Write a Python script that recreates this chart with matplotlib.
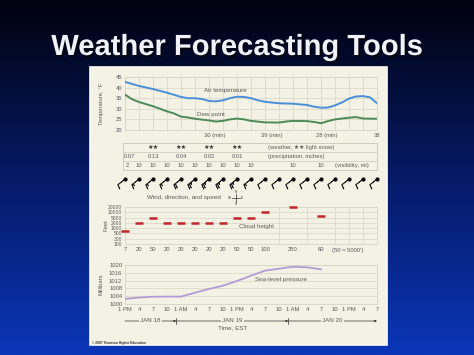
import numpy as np
import matplotlib
matplotlib.use('Agg')
import matplotlib.pyplot as plt
from matplotlib import patheffects
from matplotlib.patches import Rectangle
from matplotlib.lines import Line2D
from matplotlib.colors import LinearSegmentedColormap
from matplotlib.ticker import NullLocator

plt.rcParams['font.family'] = ['Liberation Sans', 'DejaVu Sans']

# Dane (godziny od 1 PM, 18 stycznia)
air_hours = [0, 3, 6, 9, 12, 13.5, 15, 16.5, 18, 19.5, 21, 22.5, 24, 25.5, 27, 28.5,
             30, 33, 36, 39, 40.5, 42, 43.5, 45, 46.5, 48, 49.5, 51, 52.5, 54]
air_temp = [42.7, 40.8, 39.3, 37.6, 35.6, 35.0, 35.0, 34.6, 33.7, 33.5, 34.0, 35.0,
            35.7, 35.6, 35.0, 34.0, 33.3, 32.6, 32.4, 31.8, 31.0, 30.5, 30.6, 31.6,
            33.0, 34.8, 35.8, 36.0, 35.4, 32.6]
dew_hours = [0, 1.5, 3, 6, 9, 10.5, 12, 13.5, 15, 18, 19.5, 21, 22.5, 24, 25.5, 27,
             30, 33, 34.5, 36, 39, 40.5, 42, 43.5, 45, 48, 49.5, 51, 54]
dew_point = [36.7, 34.5, 33.2, 31.2, 28.8, 27.8, 26.3, 25.9, 25.3, 24.5, 24.0, 24.3,
             25.0, 25.4, 25.0, 24.3, 23.6, 23.5, 24.0, 24.3, 24.2, 23.8, 23.2, 24.2,
             25.0, 25.8, 26.1, 25.4, 25.3]
min_hours = [19.3, 31.5, 43.2, 54]
min_labels = ['30 (min)', '39 (min)', '28 (min)', '38']

snow_hours = [6, 12, 18, 24]
precip_hours = [0, 6, 12, 18, 24]
precip = ['0.07', '0.13', '0.04', '0.02', '0.01']
vis_hours = [0, 3, 6, 9, 12, 15, 18, 21, 24, 27, 36, 42]
visibility = [2, 10, 10, 10, 10, 10, 10, 10, 10, 10, 10, 10]

wind_hours = np.arange(0, 55, 3)
wind_speed = np.array([10, 15, 15, 15, 20, 25, 25, 25, 25, 15,
                       10, 10, 10, 10, 10, 10, 10, 10, 10])

cloud_hours = [0, 3, 6, 9, 12, 15, 18, 21, 24, 27, 30, 36, 42]
cloud_ft = [700, 2000, 5000, 2000, 2000, 2000, 2000, 2000, 5000, 5000, 10000, 25000, 6000]
cloud_ticks = [100, 300, 500, 1000, 2000, 5000, 10000, 20000]

press_hours = np.arange(0, 43, 3)
pressure = [1002.6, 1003.3, 1003.7, 1003.8, 1003.8, 1005.8, 1007.7, 1009.4,
            1011.8, 1014.5, 1017.1, 1018.1, 1019.1, 1018.8, 1017.8]

day_edges = [0, 11, 35, 54]
days = ['JAN 18', 'JAN 19', 'JAN 20']

W, H = 474, 355
PANEL = '#f4f2e4'
GRID = '#d8d5c5'
TXT = '#5a5a5a'


def box(l, t, r, b):
    return [l / W, 1 - b / H, (r - l) / W, (b - t) / H]


def style(ax):
    ax.set_facecolor('none')
    for s in ax.spines.values():
        s.set_color(GRID)
        s.set_linewidth(0.6)
        s.set_zorder(0.5)
    ax.tick_params(which='both', length=0, labelsize=4.2, colors=TXT, pad=2)
    ax.set_xlim(0, 54)
    ax.set_xticks(np.arange(0, 55, 3), minor=True)
    ax.grid(True, which='minor', axis='x', color=GRID, lw=0.5)
    ax.grid(True, which='major', axis='y', color=GRID, lw=0.5)
    ax.set_axisbelow(True)


fig = plt.figure(figsize=(W / 100, H / 100), dpi=100)

# Tlo
bg = fig.add_axes([0, 0, 1, 1])
bg.axis('off')
cmap = LinearSegmentedColormap.from_list('bg', ['#01020f', '#061a66', '#0b36b8'])
bg.imshow(np.linspace(0, 1, 256).reshape(-1, 1), aspect='auto', cmap=cmap, extent=[0, 1, 0, 1])
bg.set_xlim(0, 1)
bg.set_ylim(0, 1)
bg.add_patch(Rectangle((90 / W, 1 - 345 / H), 297 / W, 278 / H,
                       facecolor=PANEL, edgecolor='#fbfbf6', lw=1.2))

fig.text(237 / W, 1 - 55 / H, 'Weather Forecasting Tools', ha='center', va='baseline',
         fontsize=21, fontweight='bold', color='#f2f2fb',
         path_effects=[patheffects.withSimplePatchShadow(offset=(1.5, -1.5),
                                                         shadow_rgbFace='black', alpha=0.6)])

# Temperatura
ax1 = fig.add_axes(box(125, 77, 377, 130))
style(ax1)
ax1.plot(air_hours, air_temp, color='#4a90d9', lw=1.4, zorder=3)
ax1.plot(dew_hours, dew_point, color='#4c8a57', lw=1.4, zorder=3)
ax1.set_ylim(20, 45)
ax1.set_yticks(range(20, 46, 5))
ax1.set_xticks(min_hours)
ax1.set_xticklabels(min_labels)
ax1.set_ylabel('Temperature, °F', fontsize=4.2, color=TXT)
ax1.yaxis.set_label_coords(-0.083, 0.5)
ax1.text(21.6, 38.4, 'Air temperature', fontsize=4.5, color=TXT, ha='center', va='center')
ax1.text(18.4, 27.5, 'Dew point', fontsize=4.5, color=TXT, ha='center', va='center')

# Tabela
ax2 = fig.add_axes(box(125, 143, 377, 170))
ax2.axis('off')
ax2.set_xlim(0, 54)
ax2.set_ylim(3, 0)
ax2.add_patch(Rectangle((-0.45, 0), 54.45, 3, fill=False, edgecolor='#c9c6b6', lw=0.6, clip_on=False))
ax2.hlines([1, 2], -0.45, 54, color='#c9c6b6', lw=0.5, clip_on=False)
for h in snow_hours:
    ax2.text(h, 0.5, '★★', fontsize=4.5, color='#333333', ha='center', va='center')
for h, p in zip(precip_hours, precip):
    ax2.text(h - 0.3 if h == 0 else h, 1.5, p, fontsize=4.2, color=TXT,
             ha='left' if h == 0 else 'center', va='center')
for h, v in zip(vis_hours, visibility):
    ax2.text(h + 0.1 if h == 0 else h, 2.5, str(v), fontsize=4.2, color=TXT,
             ha='left' if h == 0 else 'center', va='center')
ax2.text(30.6, 0.5, '(weather, ★★ light snow)', fontsize=4.2, color=TXT, va='center')
ax2.text(30.6, 1.5, '(precipitation, inches)', fontsize=4.2, color=TXT, va='center')
ax2.text(45, 2.5, '(visibility, mi)', fontsize=4.2, color=TXT, va='center')

# Wiatr
ax3 = fig.add_axes(box(125, 172, 377, 190))
ax3.axis('off')
ax3.set_xlim(0, 54)
ax3.set_ylim(0, 1)
u = wind_speed * np.cos(np.radians(38))
v = wind_speed * np.sin(np.radians(38))
yw = np.full(len(wind_hours), 0.6)
ax3.barbs(wind_hours, yw, u, v, length=3.6, linewidth=0.6, color='#222222', flip_barb=True,
          sizes={'emptybarb': 0, 'spacing': 0.2, 'height': 0.5}, clip_on=False)
ax3.scatter(wind_hours, yw, s=4, color='black', zorder=3, clip_on=False)

fig.text(183.5 / W, 1 - 198 / H, 'Wind, direction, and speed', fontsize=4.5, color=TXT,
         ha='center', va='center')
cx, cy = 236, 198
fig.add_artist(Line2D([(cx - 4) / W, (cx + 4) / W], [1 - cy / H] * 2, color='#333333', lw=0.5))
fig.add_artist(Line2D([cx / W] * 2, [1 - (cy - 4) / H, 1 - (cy + 4) / H], color='#333333', lw=0.5))
for lab, dx, dy in [('W', -6, 0), ('E', 6, 0), ('N', 0, -6), ('S', 0, 6)]:
    fig.text((cx + dx) / W, 1 - (cy + dy) / H, lab, fontsize=2.3, color='#333333',
             ha='center', va='center')

# Podstawa chmur
lc = np.log10(cloud_ticks)


def fwd(val):
    return np.interp(np.log10(np.maximum(val, 1e-9)), lc, np.arange(len(lc)))


def inv(pos):
    return 10 ** np.interp(pos, np.arange(len(lc)), lc)


ax4 = fig.add_axes(box(125, 207, 377, 244))
style(ax4)
ax4.set_yscale('function', functions=(fwd, inv))
ax4.set_ylim(100, 20000)
ax4.set_yticks(cloud_ticks)
ax4.set_yticklabels([str(t) for t in cloud_ticks])
ax4.yaxis.set_minor_locator(NullLocator())
ax4.tick_params(axis='y', labelsize=3.6)
ax4.plot(cloud_hours, cloud_ft, ls='none', marker='_', ms=6, mew=1.8, color='#c0272d',
         clip_on=False, zorder=4)
ax4.set_xticks(cloud_hours)
ax4.set_xticklabels([str(c // 100) for c in cloud_ft])
ax4.text(47.8, -0.17, "(50 = 5000')", transform=ax4.get_xaxis_transform(), fontsize=4.2,
         color=TXT, ha='center', va='center')
ax4.set_ylabel('Feet', fontsize=4.2, color=TXT)
ax4.yaxis.set_label_coords(-0.067, 0.5)
ax4.text(0.52, 0.46, 'Cloud height', transform=ax4.transAxes, fontsize=4.5, color=TXT,
         ha='center', va='center')

# Cisnienie
ax5 = fig.add_axes(box(125, 265, 377, 304))
style(ax5)
ax5.plot(press_hours, pressure, color='#b59bd6', lw=1.3, zorder=3)
ax5.set_ylim(1000, 1020)
ax5.set_yticks(range(1000, 1021, 4))
tick_hours = np.arange(0, 55, 3)
tick_labels = []
for h in tick_hours:
    hod = (13 + h) % 24
    h12 = hod % 12 or 12
    if h12 == 1:
        tick_labels.append('1 PM' if hod >= 12 else '1 AM')
    else:
        tick_labels.append(str(h12))
ax5.set_xticks(tick_hours)
ax5.set_xticklabels(tick_labels)
ax5.set_ylabel('Millibars', fontsize=4.2, color=TXT)
ax5.yaxis.set_label_coords(-0.087, 0.5)
ax5.text(0.62, 0.64, 'Sea-level pressure', transform=ax5.transAxes, fontsize=4.5, color=TXT,
         ha='center', va='center')

tr = ax5.get_xaxis_transform()
yj = (304 - 321) / 39
for a, b, lab in zip(day_edges[:-1], day_edges[1:], days):
    ax5.annotate('', xy=(b, yj), xytext=(a, yj), xycoords=tr, textcoords=tr,
                 arrowprops=dict(arrowstyle='-|>', color='#333333', lw=0.5, mutation_scale=3,
                                 shrinkA=0, shrinkB=0), annotation_clip=False)
    ax5.text((a + b) / 2, yj, lab, transform=tr, fontsize=4.5, color=TXT, ha='center',
             va='center', bbox=dict(facecolor=PANEL, edgecolor='none', pad=0.8))
for e in day_edges[1:-1]:
    ax5.plot([e, e], [yj - 0.08, yj + 0.08], transform=tr, color='#333333', lw=0.5, clip_on=False)
ax5.text(23, (304 - 328) / 39, 'Time, EST', transform=tr, fontsize=4.5, color=TXT,
         ha='center', va='center')

fig.text(92 / W, 1 - 343 / H, '© 2007 Thomson Higher Education', fontsize=2.3,
         color='#333333', fontweight='bold', ha='left', va='center')

fig.savefig('out.png', dpi=100)
